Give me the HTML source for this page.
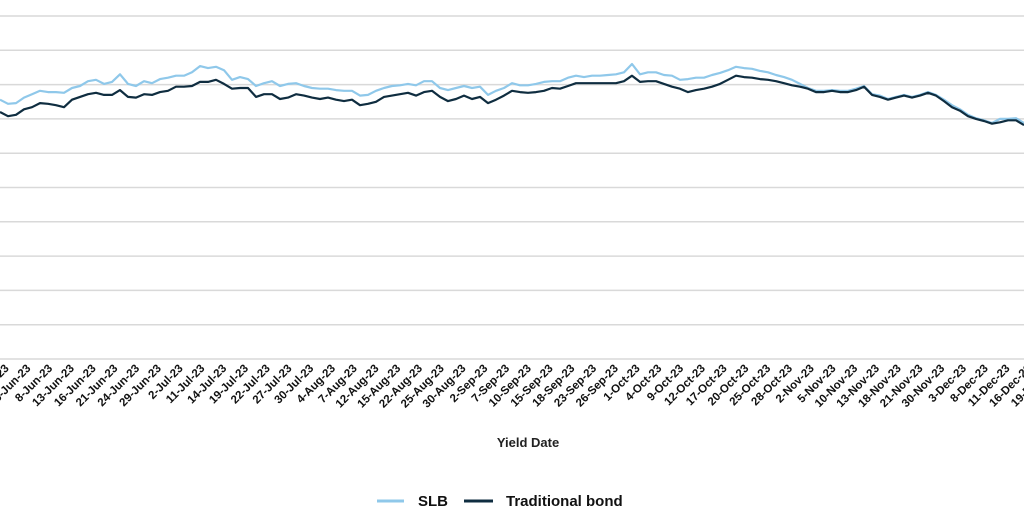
<!DOCTYPE html>
<html><head><meta charset="utf-8"><style>
html,body{margin:0;padding:0;background:#fff;}
svg{display:block;font-family:"Liberation Sans",Arial,sans-serif;}
</style></head><body>
<svg id="chart" width="1024" height="512" viewBox="0 0 1024 512" xmlns="http://www.w3.org/2000/svg">
<g id="grid"></g>
<g id="xlabels"></g>
<g id="series"></g>
<text x="528" y="447" text-anchor="middle" font-size="13" font-weight="bold" fill="#222">Yield Date</text>
<g>
<g>
<line x1="377" y1="501" x2="404" y2="501" stroke="#8fc8ea" stroke-width="3"/>
<text x="418" y="506" font-size="15" font-weight="bold" fill="#111">SLB</text>
</g>
<g>
<line x1="464" y1="501" x2="493" y2="501" stroke="#0f2d40" stroke-width="3"/>
<text x="506" y="506" font-size="15" font-weight="bold" fill="#111">Traditional bond</text>
</g>
</g>
</svg>
<script>
const tickLabels = ["1-Jun-23","5-Jun-23","8-Jun-23","13-Jun-23","16-Jun-23","21-Jun-23","24-Jun-23","29-Jun-23","2-Jul-23","11-Jul-23","14-Jul-23","19-Jul-23","22-Jul-23","27-Jul-23","30-Jul-23","4-Aug-23","7-Aug-23","12-Aug-23","15-Aug-23","22-Aug-23","25-Aug-23","30-Aug-23","2-Sep-23","7-Sep-23","10-Sep-23","15-Sep-23","18-Sep-23","23-Sep-23","26-Sep-23","1-Oct-23","4-Oct-23","9-Oct-23","12-Oct-23","17-Oct-23","20-Oct-23","25-Oct-23","28-Oct-23","2-Nov-23","5-Nov-23","10-Nov-23","13-Nov-23","18-Nov-23","21-Nov-23","30-Nov-23","3-Dec-23","8-Dec-23","11-Dec-23","16-Dec-23","19-Dec-23"];
const yTicks = [0,0.5,1,1.5,2,2.5,3,3.5,4,4.5,5];
const traditional = [3.60,3.54,3.56,3.64,3.67,3.73,3.72,3.70,3.67,3.78,3.82,3.86,3.88,3.85,3.85,3.92,3.82,3.81,3.86,3.85,3.89,3.91,3.97,3.97,3.98,4.04,4.04,4.07,4.01,3.94,3.95,3.95,3.82,3.86,3.86,3.79,3.81,3.86,3.84,3.81,3.79,3.81,3.78,3.76,3.78,3.70,3.72,3.75,3.82,3.84,3.86,3.88,3.84,3.89,3.91,3.82,3.76,3.79,3.84,3.79,3.82,3.73,3.78,3.84,3.91,3.89,3.88,3.89,3.91,3.95,3.94,3.98,4.02,4.02,4.02,4.02,4.02,4.02,4.05,4.13,4.04,4.05,4.05,4.01,3.97,3.94,3.89,3.92,3.94,3.97,4.01,4.07,4.13,4.11,4.10,4.08,4.07,4.05,4.02,3.99,3.97,3.94,3.89,3.89,3.91,3.89,3.89,3.92,3.97,3.85,3.82,3.78,3.81,3.84,3.81,3.84,3.88,3.84,3.76,3.67,3.62,3.54,3.50,3.47,3.43,3.45,3.48,3.48,3.41];
const slb = [3.78,3.72,3.73,3.81,3.86,3.91,3.89,3.89,3.88,3.95,3.98,4.05,4.07,4.01,4.04,4.15,4.01,3.98,4.05,4.02,4.08,4.10,4.13,4.13,4.18,4.27,4.24,4.26,4.21,4.07,4.11,4.08,3.98,4.02,4.05,3.98,4.01,4.02,3.98,3.95,3.94,3.94,3.92,3.91,3.91,3.84,3.85,3.91,3.95,3.98,3.99,4.01,3.99,4.05,4.05,3.95,3.92,3.95,3.98,3.95,3.97,3.85,3.91,3.95,4.02,3.99,3.99,4.01,4.04,4.05,4.05,4.10,4.13,4.11,4.13,4.13,4.14,4.15,4.18,4.30,4.15,4.18,4.18,4.14,4.13,4.07,4.08,4.10,4.10,4.14,4.17,4.21,4.26,4.24,4.23,4.20,4.18,4.14,4.11,4.07,4.01,3.95,3.91,3.91,3.92,3.91,3.91,3.94,3.98,3.86,3.84,3.79,3.82,3.85,3.82,3.85,3.89,3.85,3.78,3.70,3.64,3.56,3.51,3.48,3.44,3.50,3.50,3.51,3.44];

const NS='http://www.w3.org/2000/svg';
const plotTop=16, plotBottom=359, yMin=0, yMax=5;
const yScale = v => plotBottom - (v-yMin)/(yMax-yMin)*(plotBottom-plotTop);
const xScale = i => i*1024/(traditional.length-1);
const labelX = k => 9.5 + k*21.76;

const grid=document.getElementById('grid');
yTicks.forEach(t=>{
  const l=document.createElementNS(NS,'line');
  
  
  l.setAttribute('x1',0);l.setAttribute('x2',1024);
  l.setAttribute('y1',yScale(t));l.setAttribute('y2',yScale(t));
  l.setAttribute('stroke','#d9d9d9');l.setAttribute('stroke-width','1.5');
  grid.appendChild(l);
});

const xl=document.getElementById('xlabels');
tickLabels.forEach((s,k)=>{
  const t=document.createElementNS(NS,'text');
  
  
  const x=labelX(k), y=369;
  t.setAttribute('x',x);t.setAttribute('y',y);
  t.setAttribute('text-anchor','end');
  t.setAttribute('font-size','11.5');t.setAttribute('font-weight','bold');t.setAttribute('fill','#111');
  t.setAttribute('transform','rotate(-45 '+x+' '+y+')');
  t.textContent=s;
  xl.appendChild(t);
});

const sg=document.getElementById('series');
function drawLine(arr,color,name){
  const p=document.createElementNS(NS,'polyline');
  
  
  p.setAttribute('points',arr.map((v,i)=>xScale(i).toFixed(1)+','+yScale(v).toFixed(1)).join(' '));
  p.setAttribute('fill','none');p.setAttribute('stroke',color);p.setAttribute('stroke-width','2.2');
  p.setAttribute('stroke-linejoin','round');
  sg.appendChild(p);
}
drawLine(slb,'#8fc8ea','slb-line');
drawLine(traditional,'#0f2d40','traditional-bond-line');
</script>
</body></html>
